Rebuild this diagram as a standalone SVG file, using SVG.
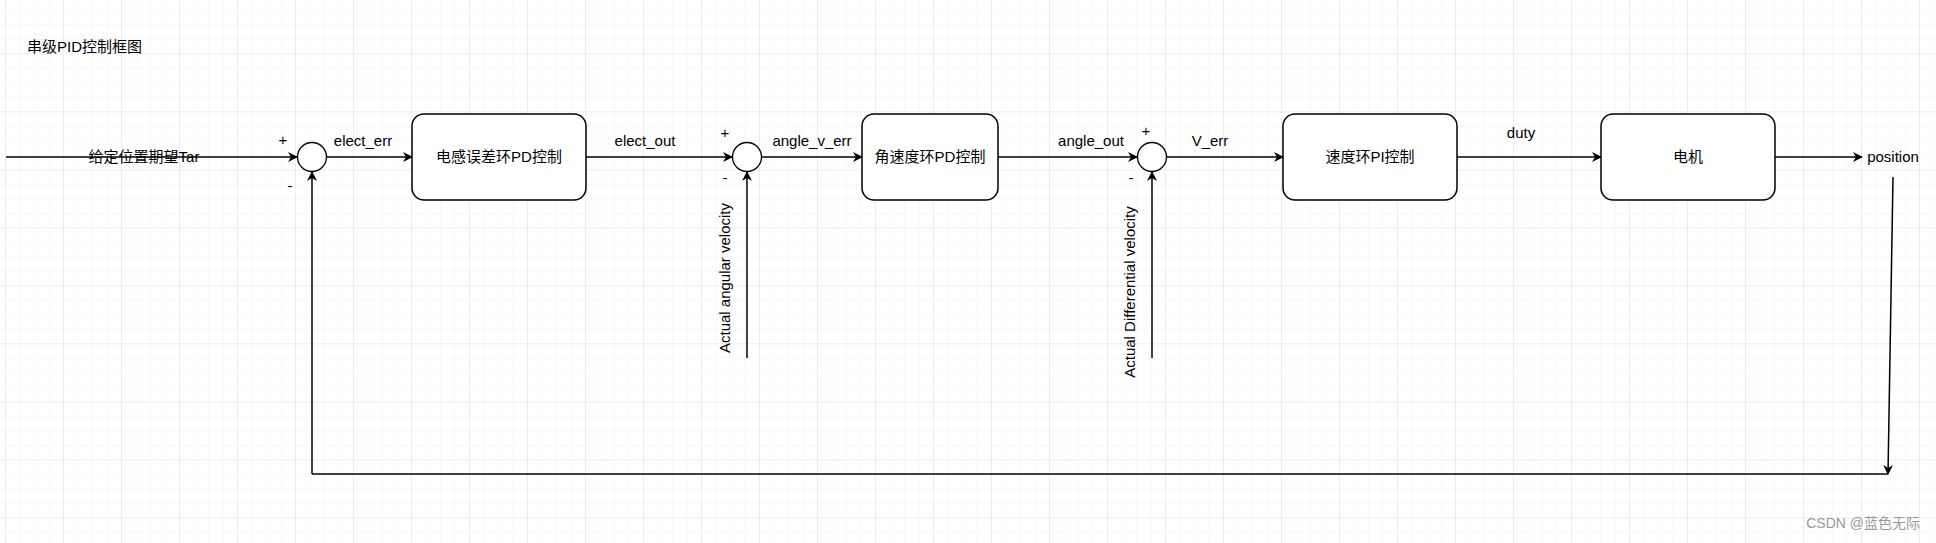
<svg xmlns="http://www.w3.org/2000/svg" width="1936" height="543" viewBox="0 0 1936 543">
<defs>
<pattern id="minor" width="14.5" height="14.5" patternUnits="userSpaceOnUse" x="6" y="10.8"><path d="M14.5 0V14.5H0" fill="none" stroke="#f1f1f1" stroke-width="1"/></pattern>
<pattern id="major" width="58" height="58" patternUnits="userSpaceOnUse" x="6" y="-3.7"><path d="M58 0V58H0" fill="none" stroke="#e2e2e2" stroke-width="1"/></pattern>
<marker id="arr" viewBox="0 0 10 10" refX="9" refY="5" markerWidth="10" markerHeight="10" markerUnits="userSpaceOnUse" orient="auto"><path d="M0,0 L10,5 L0,10 L3,5 z" fill="#000"/></marker>
</defs>
<style>
text{font-family:"Liberation Sans","Noto Sans CJK SC",sans-serif;font-size:15px;fill:#000}
.box{fill:#fff;stroke:#000;stroke-width:1.5}
.sum{fill:#fff;stroke:#000;stroke-width:1.3}
.c{fill:none;stroke:#000;stroke-width:1.5;marker-end:url(#arr)}
.l{fill:none;stroke:#000;stroke-width:1.5}
</style>
<rect width="1936" height="543" fill="#fff"/>
<rect width="1936" height="543" fill="url(#minor)"/>
<rect width="1936" height="543" fill="url(#major)"/>
<text x="27" y="52">串级PID控制框图</text>
<g id="connectors">
<path class="c" d="M6 157H297"/>
<path class="c" d="M327 157H412"/>
<path class="c" d="M586 157H732"/>
<path class="c" d="M762 157H862"/>
<path class="c" d="M998 157H1137"/>
<path class="c" d="M1167 157H1283"/>
<path class="c" d="M1457 157H1601"/>
<path class="c" d="M1775 157H1862"/>
<path class="c" d="M747 358V172"/>
<path class="c" d="M1152 358V172"/>
<path class="c" d="M1893 177L1888 474"/>
<path class="l" d="M1888 474H312"/>
<path class="c" d="M312 474V172"/>
</g>
<g id="sum1"><circle class="sum" cx="312" cy="157" r="14.5"/></g>
<g id="sum2"><circle class="sum" cx="747" cy="157" r="14.5"/></g>
<g id="sum3"><circle class="sum" cx="1152" cy="157" r="14.5"/></g>
<g id="box1"><rect class="box" x="412" y="114" width="174" height="86" rx="12"/><text x="499" y="162" text-anchor="middle">电感误差环PD控制</text></g>
<g id="box2"><rect class="box" x="862" y="114" width="136" height="86" rx="12"/><text x="930" y="162" text-anchor="middle">角速度环PD控制</text></g>
<g id="box3"><rect class="box" x="1283" y="114" width="174" height="86" rx="12"/><text x="1370" y="162" text-anchor="middle">速度环PI控制</text></g>
<g id="box4"><rect class="box" x="1601" y="114" width="174" height="86" rx="12"/><text x="1688" y="162" text-anchor="middle">电机</text></g>
<g id="labels">
<text x="144" y="162" text-anchor="middle">给定位置期望Tar</text>
<text x="283" y="145" text-anchor="middle">+</text>
<text x="290" y="191" text-anchor="middle">-</text>
<text x="363" y="146" text-anchor="middle">elect_err</text>
<text x="645" y="146" text-anchor="middle">elect_out</text>
<text x="725" y="138" text-anchor="middle">+</text>
<text x="725" y="183" text-anchor="middle">-</text>
<text x="812" y="146" text-anchor="middle">angle_v_err</text>
<text x="1091" y="146" text-anchor="middle">angle_out</text>
<text x="1146" y="136" text-anchor="middle">+</text>
<text x="1131" y="183" text-anchor="middle">-</text>
<text x="1210" y="146" text-anchor="middle">V_err</text>
<text x="1521" y="138" text-anchor="middle">duty</text>
<text x="1893" y="162" text-anchor="middle">position</text>
<text transform="translate(730 278) rotate(-90)" text-anchor="middle">Actual angular velocity</text>
<text transform="translate(1135 292) rotate(-90)" text-anchor="middle">Actual Differential velocity</text>
<text x="1920" y="528" text-anchor="end" style="fill:#999;font-size:14px">CSDN @蓝色无际</text>
</g>
</svg>
